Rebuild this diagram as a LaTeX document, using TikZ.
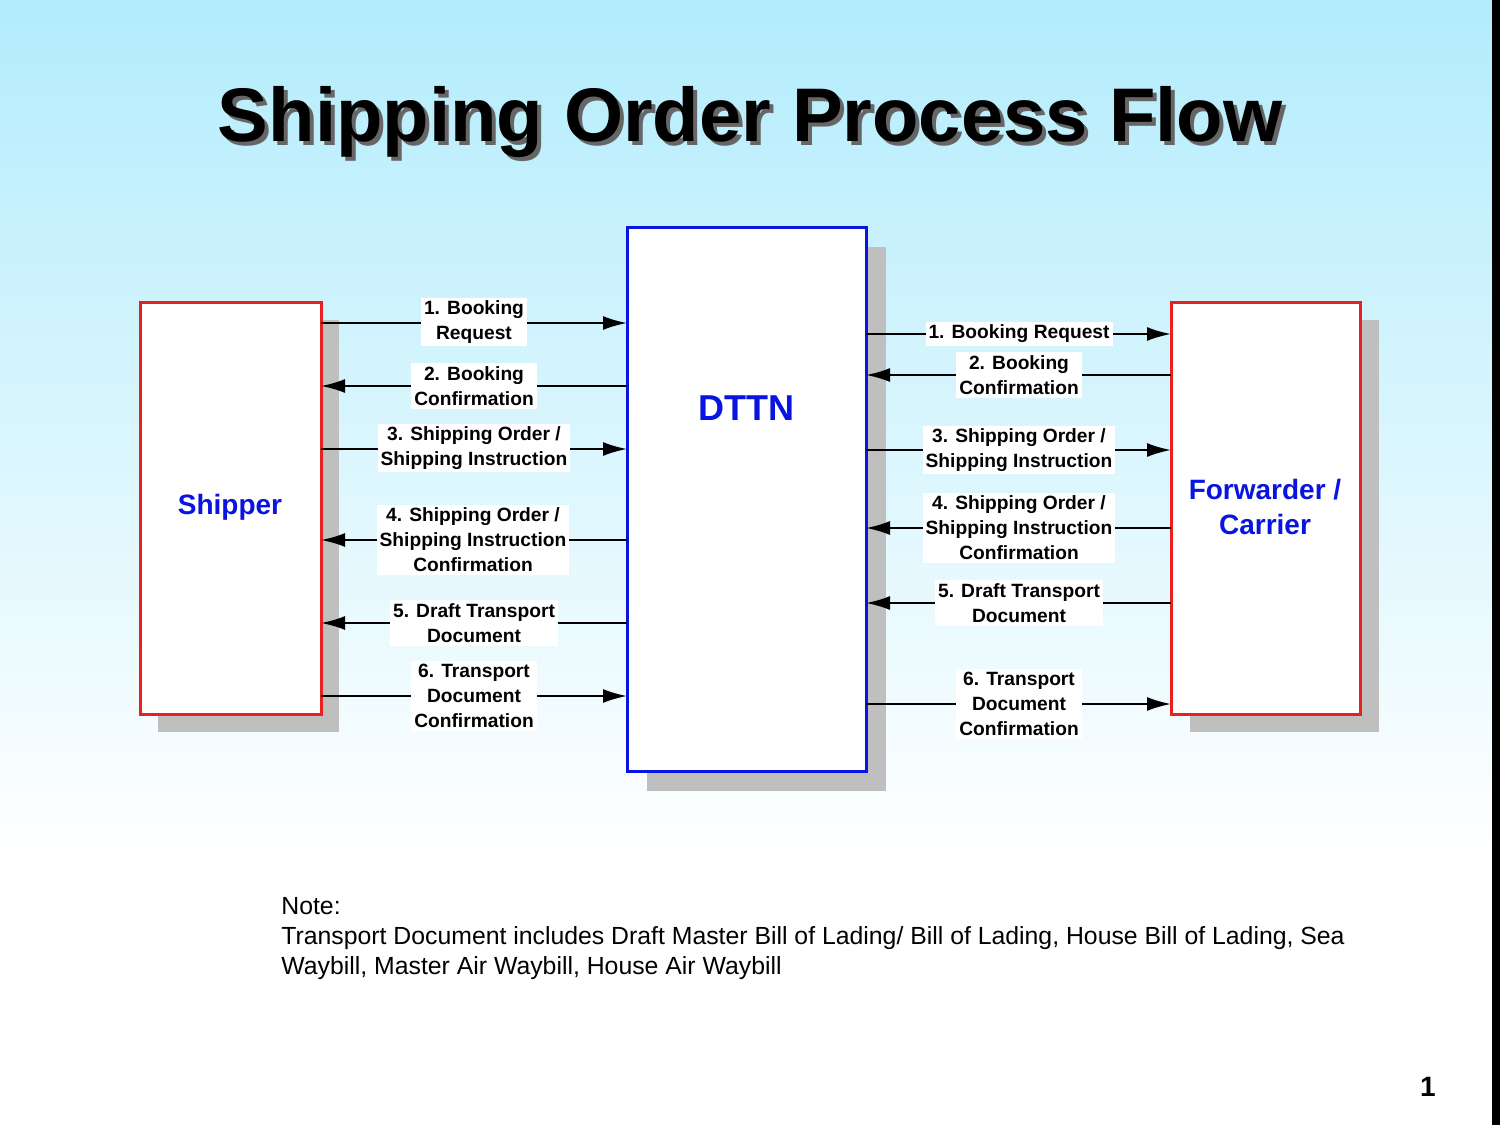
\documentclass[tikz,border=0pt]{standalone}
\usepackage{fontspec}
\setmainfont{Liberation Sans}
\usetikzlibrary{arrows.meta}
\definecolor{sky}{HTML}{B3ECFC}
\definecolor{sblue}{HTML}{0A14E0}
\definecolor{sred}{HTML}{E82020}
\begin{document}
\begin{tikzpicture}[x=0.5pt,y=-0.5pt,
  box/.style={draw,line width=1.5pt,fill=white},
  shadow/.style={fill=black!25,draw=none},
  lab/.style={fill=white,inner sep=1.5pt,align=center,font=\bfseries\fontsize{9.6}{12.5}\selectfont},
  arr/.style={line width=1pt,-{Latex[length=12pt,width=7pt]}}]
\useasboundingbox (0,0) rectangle (1500,1125);
\shade[top color=sky,bottom color=white] (0,0) rectangle (1500,860);
\fill[white] (0,860) rectangle (1500,1125);
\fill[black] (1492,0) rectangle (1500,1125);
% title
\node[font=\bfseries\fontsize{38}{40}\selectfont,text=black!60] at (754,126) {Shipping Order Process Flow};
\node[font=\bfseries\fontsize{38}{40}\selectfont] (title) at (750,122) {Shipping Order Process Flow};
% shadows
\fill[shadow] (158,320) rectangle (339,732);
\fill[shadow] (647,247) rectangle (886,791);
\fill[shadow] (1190,320) rectangle (1379,732);
% boxes
\draw[box,draw=sred] (140,302) rectangle (321,714);
\draw[box,draw=sblue] (627,227) rectangle (866,771);
\draw[box,draw=sred] (1171,302) rectangle (1360,714);
\node[text=sblue,font=\bfseries\fontsize{14}{16}\selectfont] (ship) at (230,507) {Shipper};
\node[text=sblue,font=\bfseries\fontsize{18}{20}\selectfont] (dttn) at (746,408) {DTTN};
\node[text=sblue,align=center,font=\bfseries\fontsize{14}{17.5}\selectfont] (fwd) at (1265,507) {Forwarder /\\Carrier};
% left side
\coordinate (l1a) at (321,323); \coordinate (l1b) at (627,323);
\coordinate (l2a) at (321,386); \coordinate (l2b) at (627,386);
\coordinate (l3a) at (321,449); \coordinate (l3b) at (627,449);
\coordinate (l4a) at (321,540); \coordinate (l4b) at (627,540);
\coordinate (l5a) at (321,623); \coordinate (l5b) at (627,623);
\coordinate (l6a) at (321,696); \coordinate (l6b) at (627,696);
\draw[arr] (l1a) -- (l1b);
\draw[arr] (l2b) -- (l2a);
\draw[arr] (l3a) -- (l3b);
\draw[arr] (l4b) -- (l4a);
\draw[arr] (l5b) -- (l5a);
\draw[arr] (l6a) -- (l6b);
\node[lab] (t1) at (474,322) {1. Booking\\Request};
\node[lab] (t2) at (474,386) {2. Booking\\Confirmation};
\node[lab] (t3) at (474,448) {3. Shipping Order /\\Shipping Instruction};
\node[lab] (t4) at (473,540) {4. Shipping Order /\\Shipping Instruction\\Confirmation};
\node[lab] (t5) at (474,623) {5. Draft Transport\\Document};
\node[lab] (t6) at (474,696) {6. Transport\\Document\\Confirmation};
% right side
\coordinate (r1a) at (866,334); \coordinate (r1b) at (1171,334);
\coordinate (r2a) at (866,375); \coordinate (r2b) at (1171,375);
\coordinate (r3a) at (866,450); \coordinate (r3b) at (1171,450);
\coordinate (r4a) at (866,528); \coordinate (r4b) at (1171,528);
\coordinate (r5a) at (866,603); \coordinate (r5b) at (1171,603);
\coordinate (r6a) at (866,704); \coordinate (r6b) at (1171,704);
\draw[arr] (r1a) -- (r1b);
\draw[arr] (r2b) -- (r2a);
\draw[arr] (r3a) -- (r3b);
\draw[arr] (r4b) -- (r4a);
\draw[arr] (r5b) -- (r5a);
\draw[arr] (r6a) -- (r6b);
\node[lab] (u1) at (1019,334) {1. Booking Request};
\node[lab] (u2) at (1019,375) {2. Booking\\Confirmation};
\node[lab] (u3) at (1019,450) {3. Shipping Order /\\Shipping Instruction};
\node[lab] (u4) at (1019,528) {4. Shipping Order /\\Shipping Instruction\\Confirmation};
\node[lab] (u5) at (1019,603) {5. Draft Transport\\Document};
\node[lab] (u6) at (1019,704) {6. Transport\\Document\\Confirmation};
% note
\node[anchor=north west,align=left,inner sep=0pt,font=\fontsize{12.4}{15}\selectfont] (note) at (281,897)
 {Note:\\Transport Document includes Draft Master Bill of Lading/ Bill of Lading, House Bill of Lading, Sea\\Waybill, Master Air Waybill, House Air Waybill};
\node[font=\bfseries\fontsize{14}{16}\selectfont] (pg) at (1428,1087) {1};
\end{tikzpicture}
\end{document}
